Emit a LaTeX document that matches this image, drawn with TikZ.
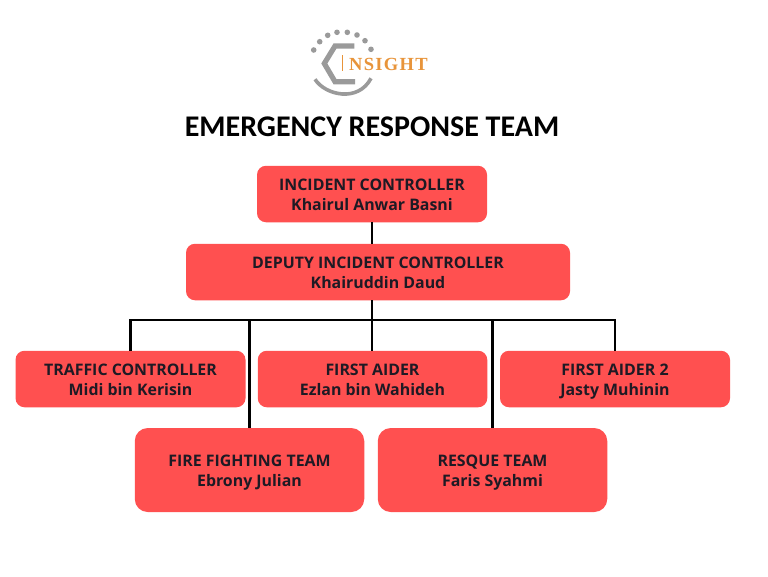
\documentclass[tikz,border=0pt]{standalone}
\usepackage{fontspec}
\setmainfont{Open Sans}
\newfontfamily\titlefont{Carlito}
\newfontfamily\logofont[LetterSpace=7]{Liberation Serif}
\definecolor{boxred}{HTML}{FF5050}
\definecolor{boxtext}{HTML}{1E1A24}
\definecolor{logogray}{HTML}{9A9A9A}
\definecolor{logoorange}{HTML}{E8943A}
\newcommand\tworows[2]{\rule[-4pt]{0pt}{20pt}#1\\\rule[-4pt]{0pt}{20pt}#2}
\tikzset{
  teambox/.style={draw=none,fill=boxred,rounded corners=9pt,inner sep=0pt,align=center,text=boxtext,
    font=\fontsize{15.9}{20}\selectfont\bfseries,minimum width=230pt,minimum height=56.5pt},
  tallbox/.style={teambox,rounded corners=13pt,minimum height=84pt,minimum width=229.5pt},
  link/.style={draw=black,line width=2.6pt},
  logodot/.style={circle,fill=logogray,draw=none,minimum size=5.6pt,inner sep=0pt},
}
\begin{document}
\begin{tikzpicture}[x=1pt,y=-1pt]
\useasboundingbox (0,0) rectangle (768,576);
% logo
\foreach \n/\p in {a/{313.7,50},b/{319.7,41.7},c/{327.7,35.3},d/{337,32.3},e/{347.3,32.3},f/{357,35},g/{365,40.7},h/{371,49.3}}
  \node[logodot] (dot\n) at (\p) {};
\draw[logogray,line width=5.2pt,line join=miter] (354.3,46) -- (335,46) -- (324.3,63.5) -- (335,81.7) -- (355,81.7);
\draw[logogray,line width=3.6pt] (315,79.3) .. controls (325,95) and (358,103) .. (371,78.3);
\fill[logoorange] (341.8,55) rectangle (343,70.7);
\node[anchor=base west,inner sep=0pt,text=logoorange,font=\fontsize{18.5}{20}\selectfont\logofont\bfseries] (logotext) at (349,70) {NSIGHT};
% title
\node[inner sep=0pt,font=\fontsize{30}{34}\selectfont\titlefont\bfseries,text=black] (title) at (372,126.5) {EMERGENCY RESPONSE TEAM};
% boxes
\node[teambox] (inc) at (372,194) {\tworows{INCIDENT CONTROLLER}{Khairul Anwar Basni}};
\node[teambox,minimum width=384pt] (dep) at (378,272) {\tworows{DEPUTY INCIDENT CONTROLLER}{Khairuddin Daud}};
\node[teambox] (tra) at (130.5,379) {\tworows{TRAFFIC CONTROLLER}{Midi bin Kerisin}};
\node[teambox,minimum width=229.5pt] (fa1) at (372.5,379) {\tworows{FIRST AIDER}{Ezlan bin Wahideh}};
\node[teambox] (fa2) at (615,379) {\tworows{FIRST AIDER 2}{Jasty Muhinin}};
\node[tallbox] (fir) at (249.5,470) {\tworows{FIRE FIGHTING TEAM}{Ebrony Julian}};
\node[tallbox] (res) at (492.5,470) {\tworows{RESQUE TEAM}{Faris Syahmi}};
% connectors
\coordinate (bus) at (372,320);
\draw[link] (inc.south -| bus) -- (dep.north -| bus);
\draw[link] (dep.south -| bus) -- (fa1.north -| bus);
\draw[link,line join=miter] (tra.north) -- (tra.north |- bus) -- (fa2.north |- bus) -- (fa2.north);
\draw[link] (fir.north |- bus) -- (fir.north);
\draw[link] (res.north |- bus) -- (res.north);
\end{tikzpicture}
\end{document}
